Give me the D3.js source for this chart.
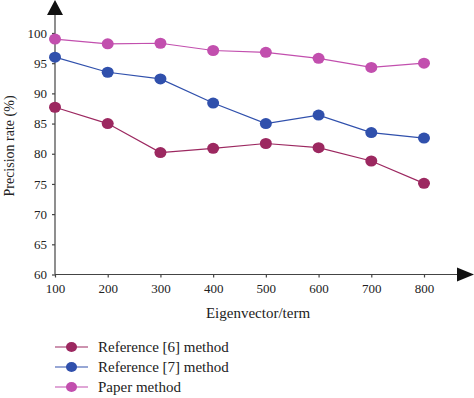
<!DOCTYPE html>
<html>
<head>
<meta charset="utf-8">
<script src="https://cdn.jsdelivr.net/npm/d3@7"></script>
<style>
  body { margin: 0; background: #fff; }
</style>
</head>
<body>
<div id="chart"></div>
<script>
let terms = [100, 200, 300, 400, 500, 600, 700, 800];
let ref6 = [87.7, 85.0, 80.2, 80.9, 81.7, 81.0, 78.8, 75.1];
let ref7 = [96.0, 93.5, 92.4, 88.4, 85.0, 86.4, 83.5, 82.6];
let paper = [99.0, 98.2, 98.3, 97.1, 96.8, 95.8, 94.3, 95.0];
let yTicks = [60, 65, 70, 75, 80, 85, 90, 95, 100];
let seriesNames = ["Reference [6] method", "Reference [7] method", "Paper method"];
let seriesColors = ["#9c2860", "#3050ac", "#c24fae"];

let serif = "'Liberation Serif', 'DejaVu Serif', serif";
let width = 474, height = 398;
let svg = d3.select("#chart").append("svg")
    .attr("width", width)
    .attr("height", height);

let x = d3.scaleLinear().domain([100, 800]).range([55, 424]);
let y = d3.scaleLinear().domain([60, 100]).range([274.5, 33]);

// axes
let xAxis = svg.append("g")
    .attr("transform", `translate(0, ${y(60)})`)
    .call(d3.axisBottom(x).tickValues(terms).tickSize(3).tickPadding(6).tickSizeOuter(0));
xAxis.select(".domain").attr("d", `M${x(100)},0H462`);

let yAxis = svg.append("g")
    .attr("transform", `translate(${x(100)}, 0)`)
    .call(d3.axisLeft(y).tickValues(yTicks).tickSize(3).tickPadding(5).tickSizeOuter(0));
yAxis.select(".domain").attr("d", `M0,${y(60)}V12`);

xAxis.attr("font-family", serif).attr("font-size", 13);
yAxis.attr("font-family", serif).attr("font-size", 13);
svg.selectAll(".tick text").attr("fill", "#222");
svg.selectAll(".domain, .tick line").attr("stroke", "#444").attr("stroke-width", 1.2);

// arrow heads
svg.append("path")
    .attr("d", `M${x(100)},0 L${x(100) - 8},15 L${x(100) + 8},15 Z`)
    .attr("fill", "#111");
svg.append("path")
    .attr("d", `M474,${y(60)} L457,${y(60) - 7} L457,${y(60) + 7} Z`)
    .attr("fill", "#111");

// axis titles
svg.append("text")
    .attr("x", 258).attr("y", 318)
    .attr("text-anchor", "middle")
    .attr("font-family", serif)
    .attr("font-size", 15)
    .attr("fill", "#222")
    .text("Eigenvector/term");

svg.append("text")
    .attr("transform", `translate(14, 146) rotate(-90)`)
    .attr("text-anchor", "middle")
    .attr("font-family", serif)
    .attr("font-size", 14)
    .attr("fill", "#222")
    .text("Precision rate (%)");

// series
let allSeries = [ref6, ref7, paper];
let line = d3.line()
    .x(function(d, i) { return x(terms[i]); })
    .y(function(d) { return y(d); });

allSeries.forEach(function(values, s) {
    svg.append("path")
        .datum(values)
        .attr("d", line)
        .attr("fill", "none")
        .attr("stroke", seriesColors[s])
        .attr("stroke-width", 1.2);
    svg.selectAll(".pt" + s)
        .data(values)
        .enter()
        .append("ellipse")
        .attr("cx", function(d, i) { return x(terms[i]); })
        .attr("cy", function(d) { return y(d); })
        .attr("rx", 6)
        .attr("ry", 5.5)
        .attr("fill", seriesColors[s]);
});

// legend
let legend = svg.selectAll(".legend")
    .data(seriesNames)
    .enter()
    .append("g")
    .attr("transform", function(d, i) { return `translate(0, ${347 + i * 20})`; });

legend.append("line")
    .attr("x1", 55).attr("x2", 88)
    .attr("stroke", function(d, i) { return seriesColors[i]; })
    .attr("stroke-width", 1.2);
legend.append("ellipse")
    .attr("cx", 71.5).attr("rx", 5.5).attr("ry", 5)
    .attr("fill", function(d, i) { return seriesColors[i]; });
legend.append("text")
    .attr("x", 98).attr("dy", "0.35em")
    .attr("font-family", serif)
    .attr("font-size", 15)
    .attr("fill", "#222")
    .text(function(d) { return d; });
</script>
</body>
</html>
